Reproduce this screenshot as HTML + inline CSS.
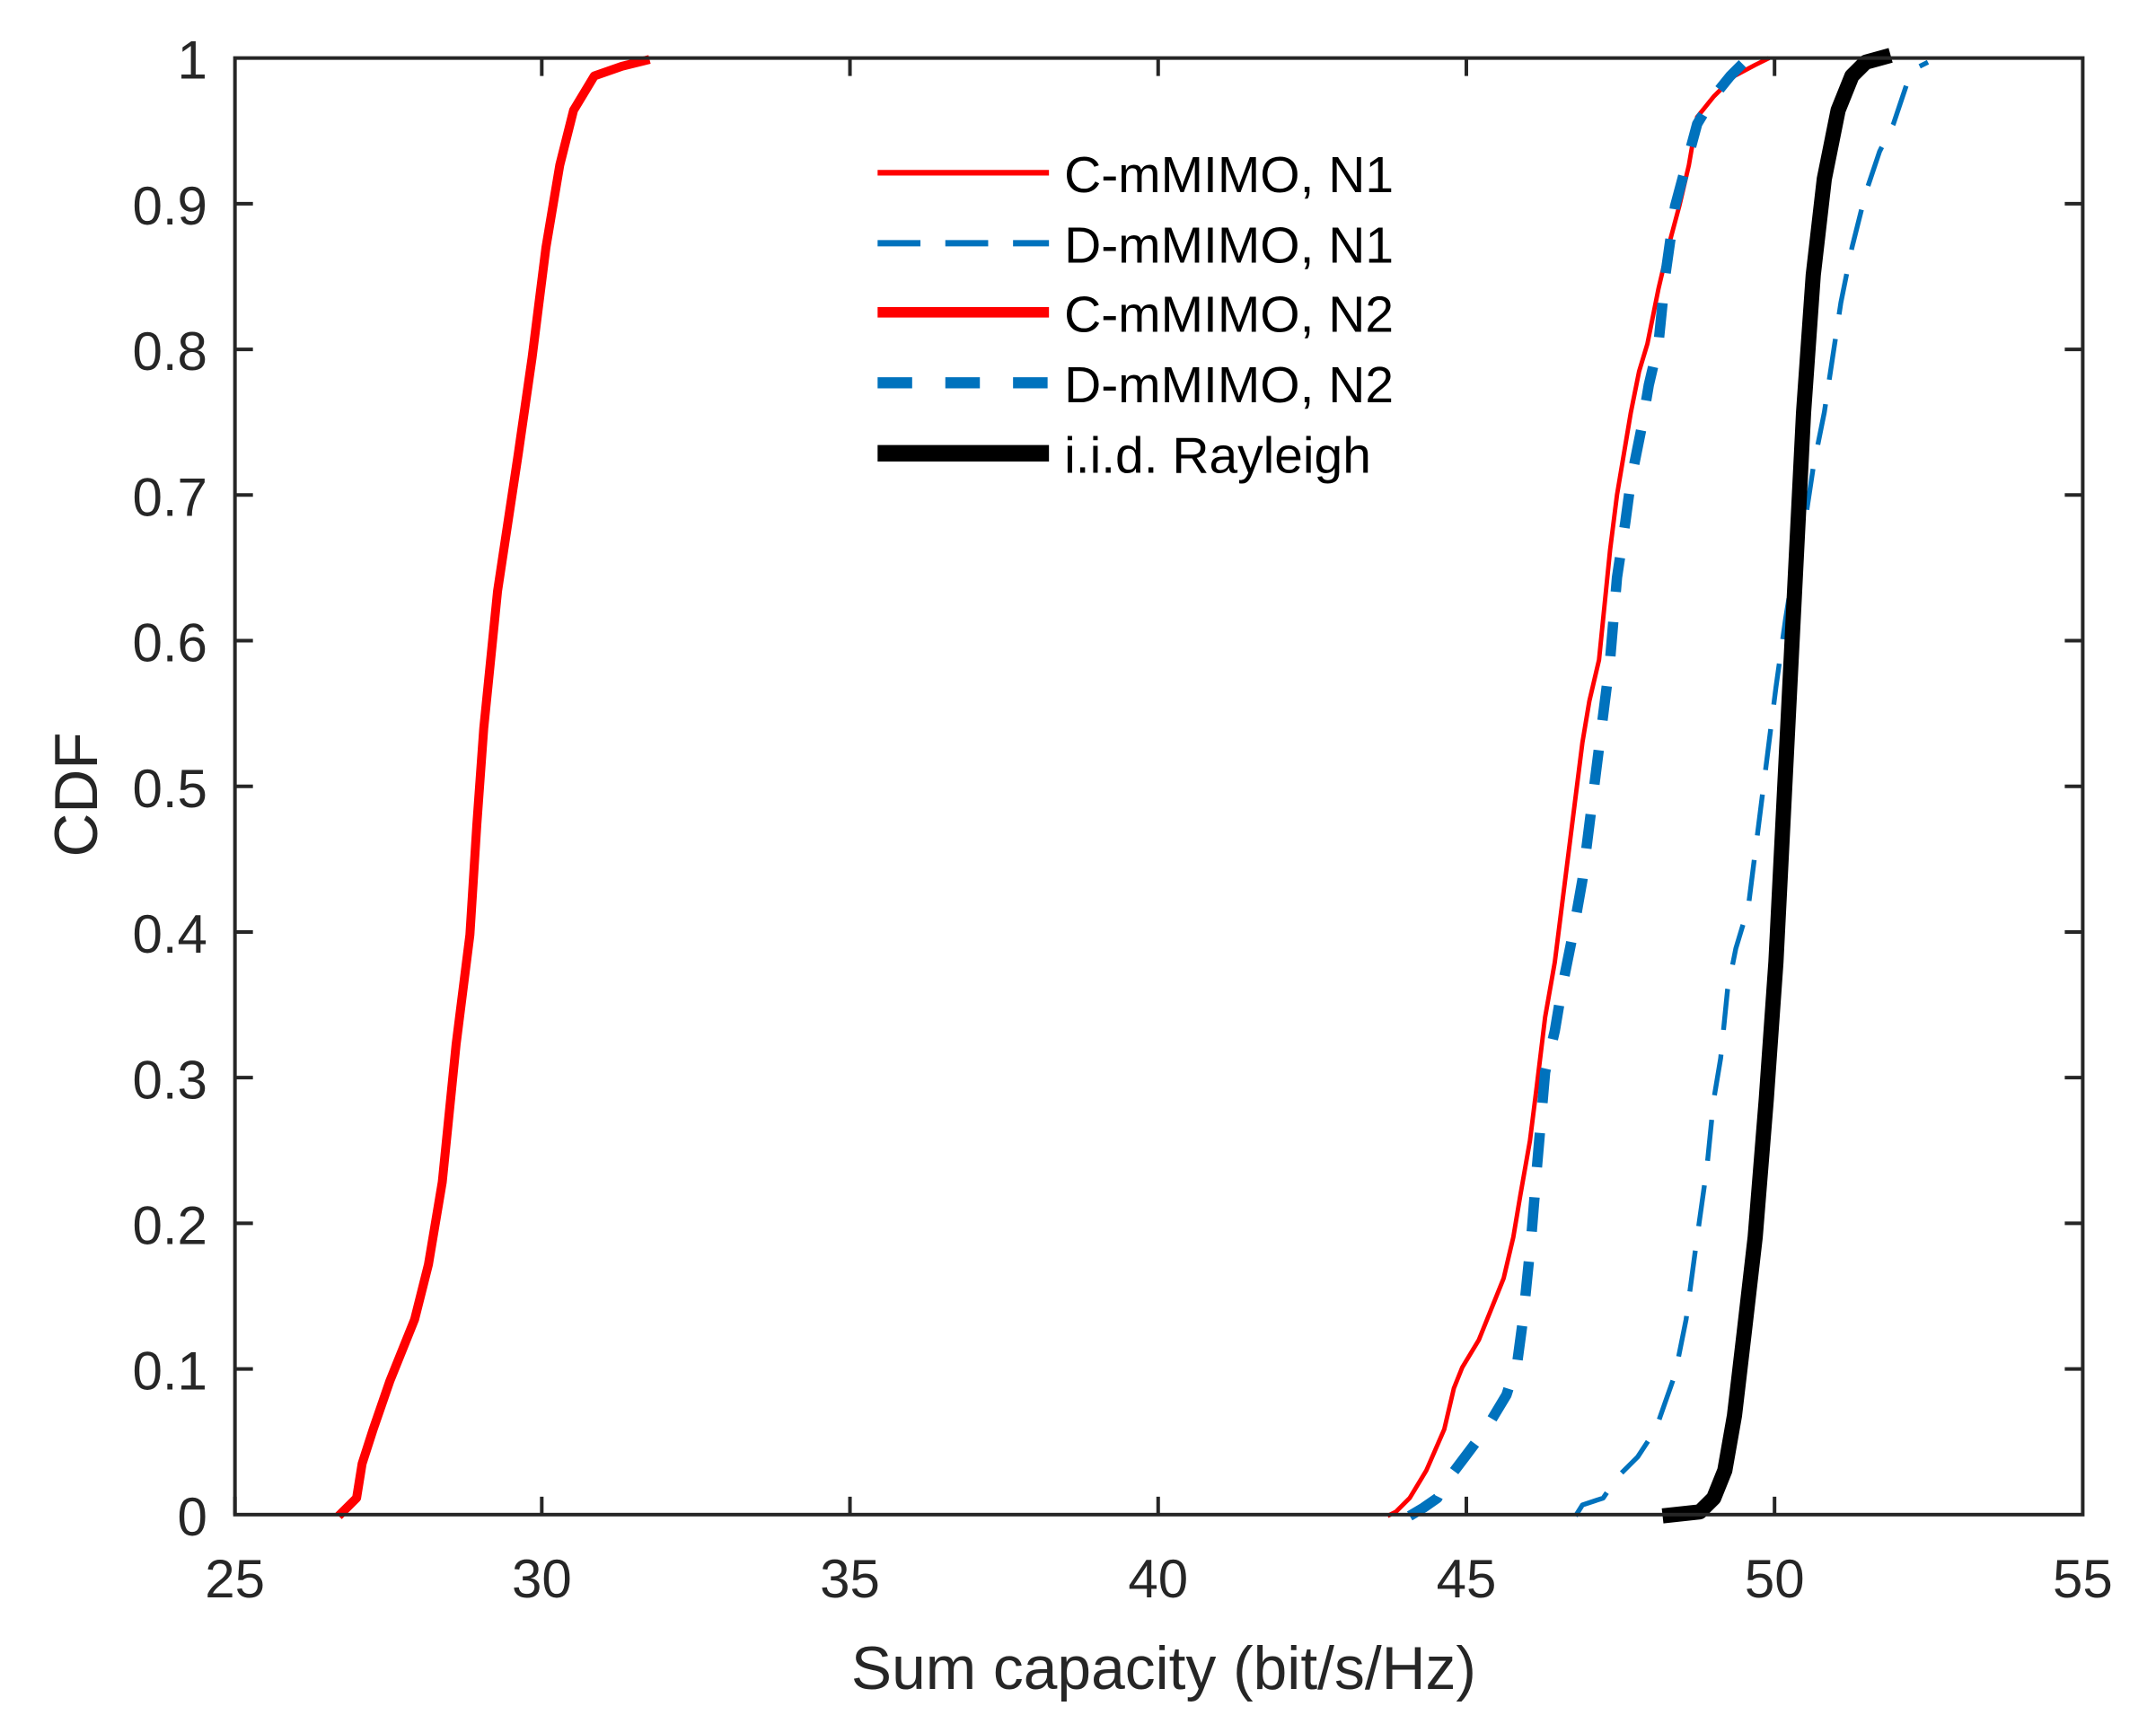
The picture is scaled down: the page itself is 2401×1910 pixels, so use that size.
<!DOCTYPE html>
<html><head><meta charset="utf-8"><style>
html,body{margin:0;padding:0;background:#fff;}
svg{display:block;}
text{font-family:"Liberation Sans",Arial,sans-serif;fill:#262626;}
</style></head><body>
<svg width="2401" height="1910" viewBox="0 0 1560 1241" xmlns="http://www.w3.org/2000/svg">
<rect width="1560" height="1241" fill="#fff"/>
<g transform="translate(0,42) scale(1,0.9943) translate(0,-42)" fill="none" stroke-linejoin="round">
<polyline stroke="#ff0000" stroke-width="6.5" points="245,1103 258,1090 262,1065 270,1040 282,1005 300,960 310,920 320,860 330,760 340,680 345,600 350,530 360,430 375,330 385,260 395,180 405,120 415,80 430,55 450,48 470,43"/>
<polyline stroke="#ff0000" stroke-width="3.2" points="1004,1103 1010,1100 1020,1090 1032,1070 1045,1040 1052,1010 1058,995 1070,975 1080,950 1088,930 1095,900 1100,870 1107,830 1112,790 1118,740 1125,700 1130,660 1135,620 1140,580 1145,540 1150,510 1157,480 1160,450 1165,400 1170,360 1175,330 1180,300 1186,270 1192,250 1200,210 1207,180 1215,150 1222,120 1228,85 1240,70 1255,55 1270,47 1280,42"/>
<polyline stroke="#0072bd" stroke-width="7.5" stroke-dasharray="25 22" points="1020,1103 1030,1097 1040,1090 1045,1080 1060,1060 1075,1040 1090,1015 1098,990 1102,960 1108,900 1112,850 1118,780 1125,750 1130,720 1138,680 1145,640 1150,600 1155,560 1160,520 1165,480 1170,420 1176,380 1180,350 1188,310 1193,280 1200,250 1205,200 1212,150 1220,120 1228,90 1240,70 1252,55 1265,42"/>
<polyline stroke="#0072bd" stroke-width="3.5" stroke-dasharray="30 18" points="1140,1103 1145,1095 1160,1090 1170,1075 1185,1060 1198,1040 1205,1020 1212,1000 1220,960 1228,900 1235,850 1240,800 1245,770 1250,720 1256,690 1265,660 1270,620 1275,580 1280,540 1285,500 1292,450 1300,400 1306,380 1312,340 1320,300 1326,260 1332,220 1340,180 1350,140 1360,110 1370,90 1380,60 1385,50 1395,45"/>
<polyline stroke="#000" stroke-width="11" points="1203,1103 1230,1100 1240,1090 1248,1070 1255,1030 1262,970 1270,900 1278,800 1285,700 1290,600 1295,500 1300,400 1305,300 1312,200 1320,130 1330,80 1340,55 1350,45 1368,40"/>
</g>
<g stroke="#262626" stroke-width="2.6" fill="none">
<rect x="170" y="42" width="1337" height="1054"/>
<path d="M170,1096v-13M392,1096v-13M615,1096v-13M838,1096v-13M1061,1096v-13M1284,1096v-13
M392,42v13M615,42v13M838,42v13M1061,42v13M1284,42v13
M170,990.6h13M170,885.2h13M170,779.8h13M170,674.4h13M170,569h13M170,463.6h13M170,358.2h13M170,252.8h13M170,147.4h13
M1507,990.6h-13M1507,885.2h-13M1507,779.8h-13M1507,674.4h-13M1507,569h-13M1507,463.6h-13M1507,358.2h-13M1507,252.8h-13M1507,147.4h-13"/>
</g>
<g font-size="39" text-anchor="middle">
<text x="170" y="1156">25</text><text x="392" y="1156">30</text><text x="615" y="1156">35</text><text x="838" y="1156">40</text><text x="1061" y="1156">45</text><text x="1284" y="1156">50</text><text x="1507" y="1156">55</text>
</g>
<g font-size="39" text-anchor="end">
<text x="150" y="1111">0</text><text x="150" y="1005.6">0.1</text><text x="150" y="900.2">0.2</text><text x="150" y="794.8">0.3</text><text x="150" y="689.4">0.4</text><text x="150" y="584">0.5</text><text x="150" y="478.6">0.6</text><text x="150" y="373.2">0.7</text><text x="150" y="267.8">0.8</text><text x="150" y="162.4">0.9</text><text x="150" y="57">1</text>
</g>
<text x="842" y="1222" font-size="44" text-anchor="middle">Sum capacity (bit/s/Hz)</text>
<text transform="translate(70,575) rotate(-90)" font-size="44" text-anchor="middle">CDF</text>
<g fill="none">
<line x1="635" y1="125" x2="759" y2="125" stroke="#ff0000" stroke-width="4"/>
<line x1="635" y1="176" x2="759" y2="176" stroke="#0072bd" stroke-width="4.5" stroke-dasharray="31 18"/>
<line x1="635" y1="226" x2="759" y2="226" stroke="#ff0000" stroke-width="7.5"/>
<line x1="635" y1="277" x2="759" y2="277" stroke="#0072bd" stroke-width="8" stroke-dasharray="25 24"/>
<line x1="635" y1="328" x2="759" y2="328" stroke="#000" stroke-width="12"/>
</g>
<g font-size="37">
<text x="770" y="139" style="fill:#000">C-mMIMO, N1</text>
<text x="770" y="190" style="fill:#000">D-mMIMO, N1</text>
<text x="770" y="240" style="fill:#000">C-mMIMO, N2</text>
<text x="770" y="291" style="fill:#000">D-mMIMO, N2</text>
<text x="770" y="342" style="fill:#000">i.i.d. Rayleigh</text>
</g>
</svg>
</body></html>
